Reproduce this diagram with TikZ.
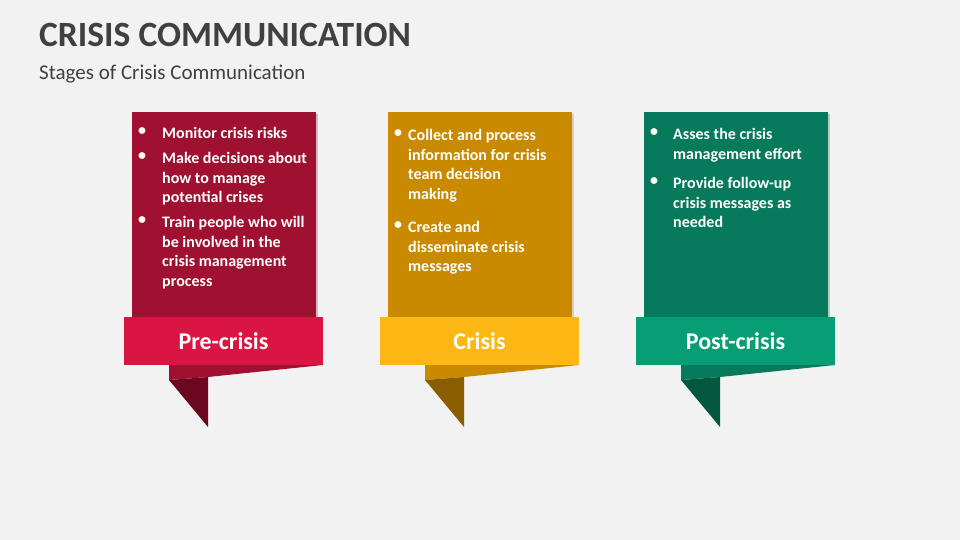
\documentclass[tikz,border=0pt]{standalone}
\usepackage{fontspec}
\setmainfont{Carlito}
\begin{document}
\begin{tikzpicture}[x=1pt,y=-1pt,
  txt/.style={text=white,font=\bfseries\fontsize{16}{19.6}\selectfont,anchor=north west,align=left,inner sep=0pt},
  dot/.style={text=white,font=\bfseries\fontsize{16}{19.6}\selectfont,anchor=north west,inner sep=0pt},
  lbl/.style={text=white,font=\bfseries\fontsize{24}{28}\selectfont}]
\definecolor{bg}{HTML}{F2F2F2}
\definecolor{ttl}{HTML}{404040}
\definecolor{pA}{HTML}{A01030}\definecolor{bA}{HTML}{D91543}\definecolor{dA}{HTML}{6B0820}
\definecolor{pB}{HTML}{C98A00}\definecolor{bB}{HTML}{FDB714}\definecolor{dB}{HTML}{8A5E00}
\definecolor{pC}{HTML}{067A5A}\definecolor{bC}{HTML}{079E74}\definecolor{dC}{HTML}{03573F}
\fill[bg] (0,0) rectangle (960,540);
\useasboundingbox (0,0) rectangle (960,540);
\node[anchor=west,text=ttl,font=\bfseries\fontsize{35.5}{40}\selectfont,inner sep=0pt] (t) at (39,35) {CRISIS COMMUNICATION};
\node[anchor=west,text=ttl,font=\fontsize{21}{24}\selectfont,inner sep=0pt] (s) at (39,74) {Stages of Crisis Communication};
\foreach \o/\p/\b/\d/\l in {0/pA/bA/dA/Pre-crisis,256/pB/bB/dB/Crisis,512/pC/bC/dC/Post-crisis}{
  \begin{scope}[xshift=\o pt]
  \fill[\p!80!black,opacity=0.25] (134,114) rectangle (318,320);
  \fill[\p] (132,112) rectangle (316,318);
  \fill[\p] (169,365) -- (323,365) -- (208,377) -- (169,380) -- cycle;
  \fill[\d] (169,380) -- (208,377) -- (208,427) -- cycle;
  \fill[\b] (124,317) rectangle (323,365);
  \node[lbl] at (223.5,341) {\l};
  \end{scope}
}
% Pre-crisis bullets
\node[dot] (a1d) at (138,127) {•};\node[txt] (a1) at (162,127) {Monitor crisis risks};
\node[dot] (a2d) at (138,152) {•};\node[txt] (a2) at (162,152) {Make decisions about\\how to manage\\potential crises};
\node[dot] (a3d) at (138,216) {•};\node[txt] (a3) at (162,216) {Train people who will\\be involved in the\\crisis management\\process};
% Crisis bullets
\node[dot] (b1d) at (394,129) {•};\node[txt] (b1) at (408,129) {Collect and process\\information for crisis\\team decision\\making};
\node[dot] (b2d) at (394,221) {•};\node[txt] (b2) at (408,221) {Create and\\disseminate crisis\\messages};
% Post-crisis bullets
\node[dot] (c1d) at (650,128) {•};\node[txt] (c1) at (673,128) {Asses the crisis\\management effort};
\node[dot] (c2d) at (650,177) {•};\node[txt] (c2) at (673,177) {Provide follow-up\\crisis messages as\\needed};
\end{tikzpicture}
\end{document}
